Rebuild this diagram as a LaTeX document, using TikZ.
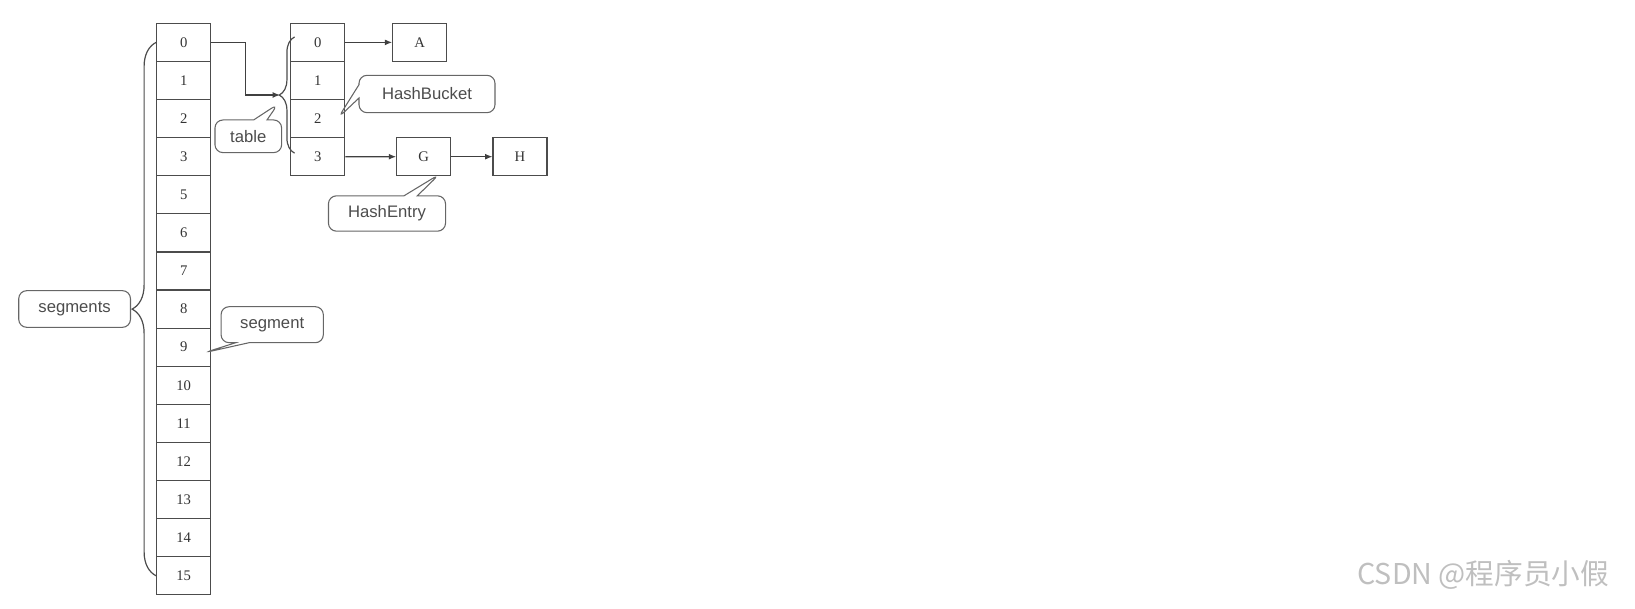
\documentclass[tikz,border=0pt]{standalone}
\usepackage{fontspec}
\setmainfont{Liberation Serif}
\setsansfont{Liberation Sans}
\newfontfamily\cjk{Noto Sans CJK SC}
\usetikzlibrary{arrows.meta}
\usetikzlibrary{shapes.callouts}
\usetikzlibrary{decorations.pathreplacing}

\begin{document}
\begin{tikzpicture}[x=0.75pt, y=-0.75pt,
    cell/.style={draw=black!70, line width=0.9pt, minimum width=40.5pt, minimum height=28.6pt, inner sep=0pt, text=black!80, font=\fontsize{11}{11}\selectfont},
    note/.style={draw=black!60, line width=0.8pt, rounded corners=6pt, inner sep=0pt, text=black!70, font=\sffamily\fontsize{12.5}{12.5}\selectfont},
    tip/.style={rectangle callout, note, callout pointer width=10pt},
    link/.style={draw=black!75, line width=0.9pt, -{Latex[length=5.5pt, width=4.5pt]}},
    curly/.style={draw=black!70, line width=0.9pt, decorate, decoration={brace, amplitude=#1}}]

    \useasboundingbox (0, 0) rectangle (1635, 609);

    % segments array and table
    \foreach \lab [count=\i from 0] in {0,1,2,3,5,6,7,8,9,10,11,12,13,14,15}
      \node [cell] (s\lab) at (183.7, 42.4 + 38.1*\i) {\lab};
    \foreach \i in {0,...,3}
      \node [cell] (t\i) at (317.7, 42.4 + 38.1*\i) {\i};

    \node [cell] (A) at (419.7, 42.4) {A};
    \node [cell] (G) at (423.7, 156.7) {G};
    \node [cell] (H) at (520, 156.7) {H};
    \draw [link] (t0) -- (A);
    \draw [link] (t3) -- (G);
    \draw [link] (G) -- (H);

    % braces
    \draw [curly=18pt] (s15.west) -- (s0.west);
    \draw [curly=11.5pt] ([shift={(4.5,-3.5)}]t3.west) -- ([shift={(4.5,-5.5)}]t0.west);
    \coordinate (segtip) at (131, 309);
    \coordinate (tbtip) at (280, 95);
    \draw [link] (s0.east) -- ++(34, 0) |- (tbtip);

    % callouts
    \node [note, anchor=east, minimum width=83.8pt, minimum height=27.5pt] (segs) at (segtip) {segments};
    \node [tip, minimum width=50pt, minimum height=24.5pt, callout absolute pointer={([shift={(-2,9)}]tbtip)}] (tab) at (248.3, 136.3) {table};
    \node [tip, minimum width=102pt, minimum height=28pt, callout absolute pointer={([shift={(-7,-1)}]t2.east)}] (bucket) at (427, 94) {HashBucket};
    \node [tip, minimum width=87.8pt, minimum height=26.5pt, callout absolute pointer={([shift={(-12,-2)}]G.south east)}] (entry) at (387, 213.5) {HashEntry};
    \node [tip, minimum width=76.7pt, minimum height=27pt, callout absolute pointer={([shift={(-7,5.5)}]s9.east)}] (seg) at (272.2, 324.7) {segment};

    \node [anchor=east, text=black!25, font=\cjk\fontsize{21.5}{21.5}\selectfont] (mark) at (1614, 575) {CSDN @程序员小假};
\end{tikzpicture}
\end{document}
